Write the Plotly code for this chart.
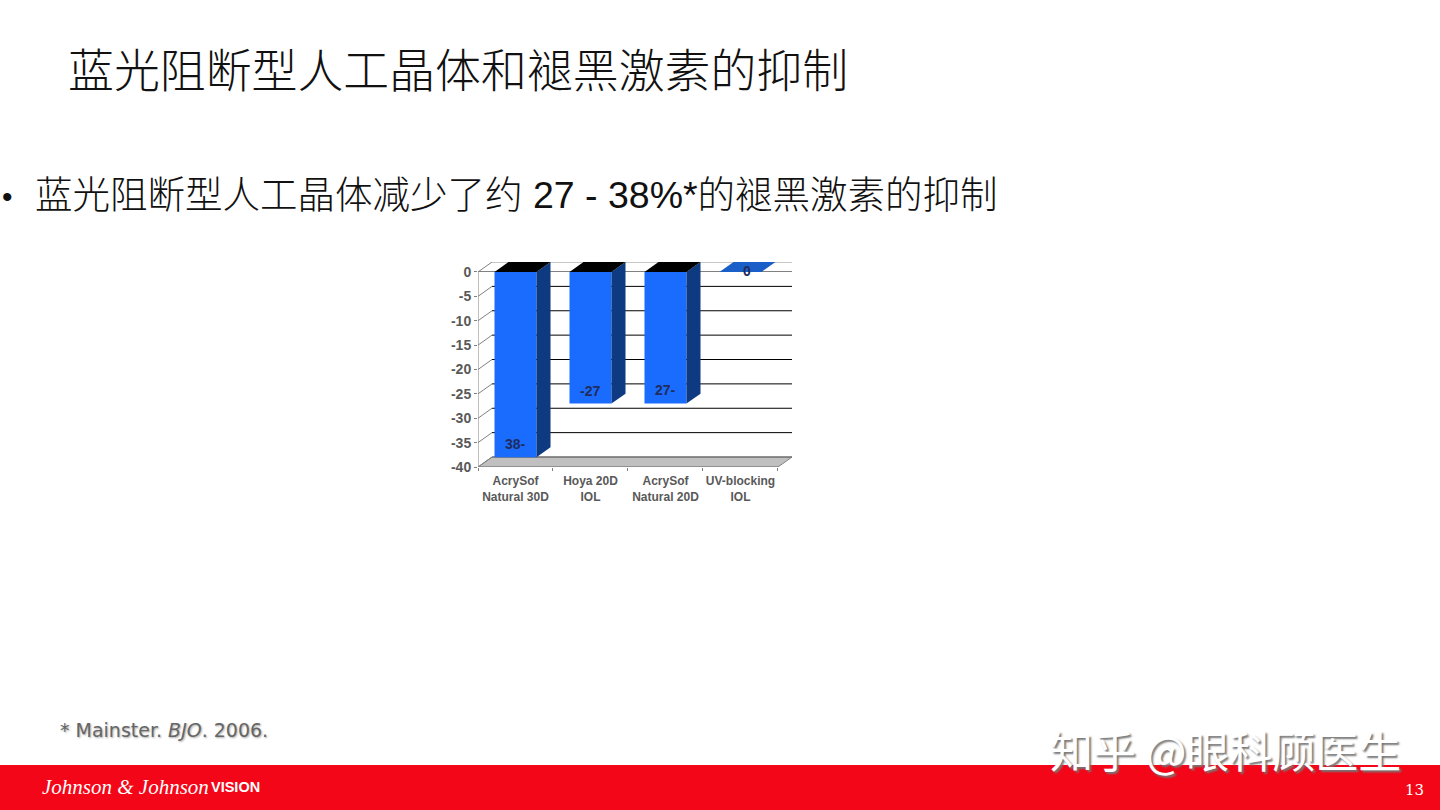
import plotly.graph_objects as go

categories = ["AcrySof<br>Natural 30D", "Hoya 20D<br>IOL", "AcrySof<br>Natural 20D", "UV-blocking<br>IOL"]
values = [-38, -27, -27, 0]
label_texts = ["38-", "-27", "27-", "0"]
y_ticks = [0, -5, -10, -15, -20, -25, -30, -35, -40]

TITLE = "蓝光阻断型人工晶体和褪黑激素的抑制"
BULLET = "蓝光阻断型人工晶体减少了约 27 - 38%*的褪黑激素的抑制"

W, H = 1440, 810
DX, DY = 0.187, 2.05
BAR_W = 0.56
YMIN, YMAX = -40, 0
XL, XR = -0.5, 3.5
CJK = "Noto Sans CJK SC"
SANS = "Liberation Sans"

def px(x):
    return x / W

def py(y):
    return 1 - y / H

fig = go.Figure()

shapes = []
# floor
shapes.append(dict(type="path", layer="below", xref="x", yref="y",
                   path=f"M{XL},{YMIN} L{XL+DX},{YMIN+DY} L{XR+DX},{YMIN+DY} L{XR},{YMIN} Z",
                   fillcolor="#c0c0c0", line=dict(color="#808080", width=1)))
# back wall grid and left wall diagonals
for v in y_ticks:
    if v == YMAX:
        color = "#909090"
    elif v == YMIN:
        color = "#606060"
    else:
        color = "#000000"
    shapes.append(dict(type="line", layer="below", xref="x", yref="y",
                       x0=XL + DX, x1=XR + DX, y0=v + DY, y1=v + DY,
                       line=dict(color=color, width=1)))
    shapes.append(dict(type="line", layer="below", xref="x", yref="y",
                       x0=XL, x1=XL + DX, y0=v, y1=v + DY,
                       line=dict(color="#808080", width=1)))
# red footer band
shapes.append(dict(type="rect", layer="below", xref="paper", yref="paper",
                   x0=0, x1=1, y0=0, y1=py(765), fillcolor="#f30617", line=dict(width=0)))
# left axis and bottom axis lines
shapes.append(dict(type="line", layer="below", xref="x", yref="y", x0=XL, x1=XL, y0=YMIN, y1=YMAX,
                   line=dict(color="#808080", width=1)))
shapes.append(dict(type="line", layer="below", xref="x", yref="y", x0=XL, x1=XR, y0=YMIN, y1=YMIN,
                   line=dict(color="#808080", width=1)))

# front faces
fig.add_trace(go.Bar(x=list(range(len(values))), y=values, width=BAR_W,
                     marker=dict(color="#1a6cff", line=dict(width=0)), hoverinfo="skip"))

# side and top faces, derived from the data
for i, v in enumerate(values):
    l, r = i - BAR_W / 2, i + BAR_W / 2
    if v != 0:
        fig.add_trace(go.Scatter(x=[r, r + DX, r + DX, r, r], y=[0, DY, v + DY, v, 0],
                                 mode="lines", fill="toself", fillcolor="#0e3a82",
                                 line=dict(width=0), hoverinfo="skip"))
    fig.add_trace(go.Scatter(x=[l, l + DX, r + DX, r, l], y=[0, DY, DY, 0, 0],
                             mode="lines", fill="toself",
                             fillcolor="#000000" if v != 0 else "#1a5fc8",
                             line=dict(width=0), hoverinfo="skip"))

annotations = []
# data labels
label_dx = [0, 0, 0, 0.09]
label_dy = [2.7, 2.6, 2.8, 0.2]
for i, (v, t) in enumerate(zip(values, label_texts)):
    annotations.append(dict(x=i + label_dx[i], y=v + label_dy[i], xref="x", yref="y", text=f"<b>{t}</b>",
                            showarrow=False, font=dict(family=SANS, size=14, color="#1f2d5c")))

def page_text(x, y, text, size, color, family, anchor="left", shadow=None, weight=None):
    font = dict(family=family, size=size, color=color)
    if shadow:
        font["shadow"] = shadow
    if weight:
        font["weight"] = weight
    annotations.append(dict(x=px(x), y=py(y), xref="paper", yref="paper", text=text, showarrow=False,
                            xanchor=anchor, yanchor="middle", font=font))

page_text(66, 67, TITLE, 45.9, "#111111", CJK, weight=300)
page_text(0, 196, "•", 30, "#111111", SANS)
page_text(33, 195, BULLET, 37.5, "#111111", f"{SANS}, {CJK}", weight=300)
page_text(58, 730, "* Mainster. <i>BJO</i>. 2006.", 19, "#666666", "DejaVu Sans", shadow="1px 1px 2px #aaaaaa")
page_text(40, 787, "<i>Johnson &amp; Johnson</i>", 21, "#ffffff", "Liberation Serif")
page_text(209, 787, "<b>VISION</b>", 14.5, "#ffffff", SANS)
page_text(1048, 749, "知乎 @眼科顾医生", 43, "#ffffff", CJK, shadow="2px 2px 2px #777777")
page_text(1426, 790, "13", 15, "#ffffff", "DejaVu Serif", anchor="right")

fig.update_layout(
    width=W, height=H, autosize=False,
    margin=dict(l=0, r=0, t=0, b=0),
    paper_bgcolor="#ffffff", plot_bgcolor="rgba(0,0,0,0)",
    showlegend=False, hovermode=False, barmode="overlay",
    shapes=shapes, annotations=annotations,
    xaxis=dict(domain=[px(478), px(792)], range=[XL, XR + DX], automargin=False,
               tickmode="array", tickvals=list(range(len(categories))), ticktext=[f"<b>{c.replace('<br>', '</b><br><b>')}</b>" for c in categories],
               tickfont=dict(family=SANS, size=12, color="#595959"), tickangle=0,
               ticks="", showgrid=False, zeroline=False,
               showline=False, ticklabelstandoff=5,
               minor=dict(tickmode="array", tickvals=[-0.5, 0.5, 1.5, 2.5, 3.5], ticks="outside",
                          ticklen=3, tickcolor="#808080", showgrid=False)),
    yaxis=dict(domain=[py(467), py(262)], range=[YMIN, YMAX + DY], automargin=False,
               tickmode="array", tickvals=y_ticks, ticktext=[f"<b>{v}</b>" for v in y_ticks],
               tickfont=dict(family=SANS, size=14, color="#595959"),
               ticks="outside", ticklen=3, tickcolor="#808080",
               showgrid=False, showline=False, zeroline=True, zerolinecolor="#808080", zerolinewidth=1),
)

POST = "document.body.style.margin='0';document.body.style.overflow='hidden';"
fig.write_html("out.html", config={"displayModeBar": False}, post_script=POST)
